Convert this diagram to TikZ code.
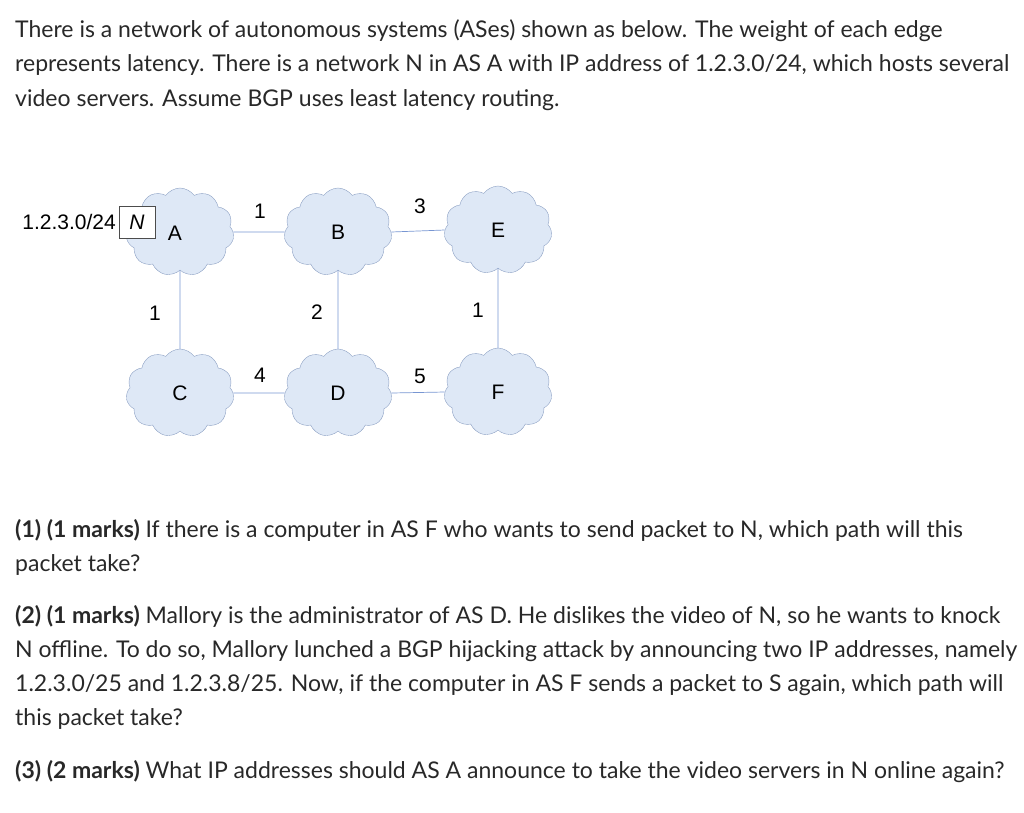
\documentclass[tikz,border=0pt]{standalone}
\usepackage{fontspec}
\setmainfont{Lato}
\newfontfamily\arial{Liberation Sans}
\usetikzlibrary{shapes.symbols}
\definecolor{cfill}{RGB}{222,232,246}
\definecolor{cdraw}{RGB}{140,160,195}
\definecolor{edge}{RGB}{120,150,210}
\definecolor{txt}{RGB}{40,40,40}
\begin{document}
\begin{tikzpicture}[x=1pt,y=-1pt,
  para/.style={anchor=base west,inner sep=0pt,font=\fontsize{23}{27}\selectfont,text=txt},
  as/.style={cloud,cloud puffs=11,cloud puff arc=110,aspect=1.25,draw=cdraw,fill=cfill,minimum width=108pt,minimum height=88pt,inner sep=0pt,font=\arial\fontsize{21}{24}\selectfont},
  wt/.style={font=\arial\fontsize{21}{24}\selectfont,inner sep=0pt},
  link/.style={draw=edge,line width=0.7pt}]
\useasboundingbox (0,0) rectangle (1024,812);
\node[para] (t1) at (15,37) {There is a network of autonomous systems (ASes) shown as below. The weight of each edge};
\node[para] (t2) at (15,71) {represents latency. There is a network N in AS A with IP address of 1.2.3.0/24, which hosts several};
\node[para] (t3) at (15,106) {video servers. Assume BGP uses least latency routing.};

\node[as] (A) at (180,232) {};
\node[as] (B) at (338,232) {B};
\node[as] (E) at (498,230) {E};
\node[as] (C) at (180,393) {C};
\node[as] (D) at (338,393) {D};
\node[as] (F) at (498,392) {F};
\node[wt] (Al) at (175,233) {A};
\node[draw=black!70,fill=white,minimum width=36pt,minimum height=32pt,inner sep=0pt,font=\arial\itshape\fontsize{21}{24}\selectfont] (N) at (137,222) {N};
\node[wt,anchor=east] (ip) at (116,222) {1.2.3.0/24};

\draw[link] (A.east) -- (B.west);
\draw[link] (B.east) -- (E.west);
\draw[link] (C.east) -- (D.west);
\draw[link] (D.east) -- (F.west);
\draw[link] (A.south) -- (C.north);
\draw[link] (B.south) -- (D.north);
\draw[link] (E.south) -- (F.north);
\node[wt] (w1) at (260,211) {1};
\node[wt] (w2) at (420,206) {3};
\node[wt] (w3) at (155,313) {1};
\node[wt] (w4) at (317,312) {2};
\node[wt] (w5) at (478,310) {1};
\node[wt] (w6) at (260,375) {4};
\node[wt] (w7) at (420,376) {5};

\node[para] (q1) at (15,537) {\textbf{(1) (1 marks)} If there is a computer in AS F who wants to send packet to N, which path will this};
\node[para] (q1b) at (15,571) {packet take?};
\node[para] (q2) at (15,623) {\textbf{(2) (1 marks)} Mallory is the administrator of AS D. He dislikes the video of N, so he wants to knock};
\node[para] (q2b) at (15,657) {N offline. To do so, Mallory lunched a BGP hijacking attack by announcing two IP addresses, namely};
\node[para] (q2c) at (15,691) {1.2.3.0/25 and 1.2.3.8/25. Now, if the computer in AS F sends a packet to S again, which path will};
\node[para] (q2d) at (15,725) {this packet take?};
\node[para] (q3) at (15,778) {\textbf{(3) (2 marks)} What IP addresses should AS A announce to take the video servers in N online again?};
\end{tikzpicture}
\end{document}
